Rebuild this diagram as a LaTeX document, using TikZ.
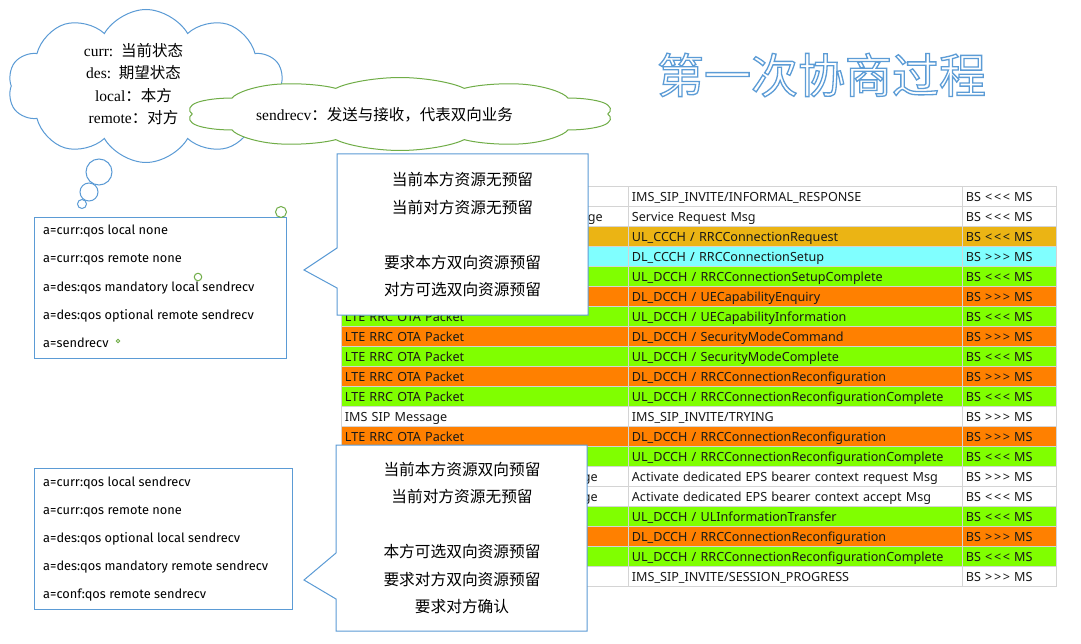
\documentclass[tikz,border=0pt]{standalone}
\usepackage{fontspec}
\setmainfont{Liberation Serif}
\newfontfamily\cjk{Noto Sans CJK SC}
\newfontfamily\tblfont{Noto Sans}
\newfontfamily\sdpfont{Fira Sans}
\usetikzlibrary{shapes.symbols}
\definecolor{ablue}{RGB}{91,155,213}
\definecolor{agreen}{RGB}{112,173,71}
\definecolor{cgold}{RGB}{235,180,20}
\definecolor{ccyan}{RGB}{128,255,255}
\definecolor{cgreen}{RGB}{128,255,0}
\definecolor{corange}{RGB}{255,128,0}
\definecolor{gridc}{RGB}{212,212,212}
\newcommand\outlinetext[1]{\special{pdf:literal direct 0.36 0.61 0.84 RG 1.3 w 2 Tr}#1\special{pdf:literal direct 0 Tr}}
\newcommand\upmsg{BS <\kern1.6pt<\kern1.6pt< MS}
\newcommand\dnmsg{BS >\kern1.6pt>\kern1.6pt> MS}
\newcommand\trow[5]{%
  \node[cell, fill=#2, text width=280pt] (a#1) at (341,{166+20*#1}) {#3};
  \node[cell, fill=#2, text width=327pt] (b#1) at (628,{166+20*#1}) {#4};
  \node[cell, fill=#2, text width=87pt] (c#1) at (962,{166+20*#1}) {#5};}
\begin{document}
\begin{tikzpicture}[x=1pt,y=-1pt,
  cell/.style={draw=gridc, line width=0.8pt, minimum height=20pt, inner xsep=3.5pt, inner ysep=0pt,
    anchor=north west, text height=11pt, text depth=0pt, align=left,
    font=\tblfont\fontsize{12.6}{14}\selectfont, text=black!90},
  callout/.style={draw=ablue, fill=white, line width=1pt},
  cjktext/.style={font=\cjk\fontsize{15.7}{27.5}\selectfont, align=center, inner sep=0pt},
  sdpbox/.style={draw=ablue, fill=white, line width=1pt},
  sdpline/.style={anchor=base west, inner sep=0pt, font=\sdpfont\fontsize{12.8}{14}\selectfont},
  bubble/.style={draw=ablue, fill=white, line width=1pt},
  gbubble/.style={draw=agreen, fill=white, line width=1pt},
  cloudbase/.style={cloud, inner sep=0pt, fill=white, line width=1pt},
]
\fill[white] (0,0) rectangle (1081,644);
\useasboundingbox (0,0) rectangle (1081,644);

% ---------- table ----------
\trow{1}{white}{}{IMS\_SIP\_INVITE/INFORMAL\_RESPONSE}{\upmsg}
\trow{2}{white}{}{Service Request Msg}{\upmsg}
\trow{3}{cgold}{}{UL\_CCCH / RRCConnectionRequest}{\upmsg}
\trow{4}{ccyan}{}{DL\_CCCH / RRCConnectionSetup}{\dnmsg}
\trow{5}{cgreen}{}{UL\_DCCH / RRCConnectionSetupComplete}{\upmsg}
\trow{6}{corange}{}{DL\_DCCH / UECapabilityEnquiry}{\dnmsg}
\trow{7}{cgreen}{LTE RRC OTA Packet}{UL\_DCCH / UECapabilityInformation}{\upmsg}
\trow{8}{corange}{LTE RRC OTA Packet}{DL\_DCCH / SecurityModeCommand}{\dnmsg}
\trow{9}{cgreen}{LTE RRC OTA Packet}{UL\_DCCH / SecurityModeComplete}{\upmsg}
\trow{10}{corange}{LTE RRC OTA Packet}{DL\_DCCH / RRCConnectionReconfiguration}{\dnmsg}
\trow{11}{cgreen}{LTE RRC OTA Packet}{UL\_DCCH / RRCConnectionReconfigurationComplete}{\upmsg}
\trow{12}{white}{IMS SIP Message}{IMS\_SIP\_INVITE/TRYING}{\dnmsg}
\trow{13}{corange}{LTE RRC OTA Packet}{DL\_DCCH / RRCConnectionReconfiguration}{\dnmsg}
\trow{14}{cgreen}{}{UL\_DCCH / RRCConnectionReconfigurationComplete}{\upmsg}
\trow{15}{white}{}{Activate dedicated EPS bearer context request Msg}{\dnmsg}
\trow{16}{white}{}{Activate dedicated EPS bearer context accept Msg}{\upmsg}
\trow{17}{cgreen}{}{UL\_DCCH / ULInformationTransfer}{\upmsg}
\trow{18}{corange}{}{DL\_DCCH / RRCConnectionReconfiguration}{\dnmsg}
\trow{19}{cgreen}{}{UL\_DCCH / RRCConnectionReconfigurationComplete}{\upmsg}
\trow{20}{white}{}{IMS\_SIP\_INVITE/SESSION\_PROGRESS}{\dnmsg}
\foreach \r/\e in {2/603,15/598,16/598}{
  \node[anchor=base east, inner sep=0pt, font=\tblfont\fontsize{12.6}{14}\selectfont, text=black!90]
    (ge\r) at (\e,{181.5+20*\r}) {ge};}

% ---------- callouts ----------
\path[callout] (337,154) -- (588,154) -- (588,315) -- (337,315) -- (337,288) -- (304,270) -- (337,248) -- cycle;
\node[cjktext] (note1) at (462.5,235) {当前本方资源无预留\\当前对方资源无预留\\[27.5pt]要求本方双向资源预留\\对方可选双向资源预留};
\path[callout] (336,445) -- (587,445) -- (587,631) -- (336,631) -- (336,599) -- (304,580) -- (336,553) -- cycle;
\node[cjktext] (note2) at (462,538) {当前本方资源双向预留\\当前对方资源无预留\\[27.5pt]本方可选双向资源预留\\要求对方双向资源预留\\要求对方确认};

% ---------- title ----------
\node[font=\cjk\fontsize{47}{50}\selectfont, text=white, inner sep=0pt] (title) at (821.5,75) {\outlinetext{第一次协商过程}};

% ---------- clouds ----------
\node[cloudbase, draw=ablue, cloud puffs=10, cloud puff arc=120, aspect=1.8,
  minimum width=276pt, minimum height=153pt] (cloudA) at (146,86) {};
\node[font=\fontsize{15.5}{22.4}\selectfont, align=center, inner sep=0pt] (cloudAtext) at (133.5,84)
  {curr:\ \ {\cjk 当前状态}\\des:\ \ {\cjk 期望状态}\\local{\cjk ：本方}\\remote{\cjk ：对方}};
\begin{scope}[shift={(400,114)}]
\node[cloudbase, draw=agreen, cloud puffs=10, cloud puff arc=120, aspect=1.72,
  minimum width=261pt, minimum height=152pt, xscale=1.64, yscale=0.48, transform shape] (cloudB) at (0,0) {};
\end{scope}
\node[font=\fontsize{15.5}{18}\selectfont, inner sep=0pt] (cloudBtext) at (384.5,115)
  {sendrecv{\cjk ：发送与接收，代表双向业务}};
\node[bubble, circle, minimum size=26pt, inner sep=0pt] (bA1) at (99,172) {};
\node[bubble, circle, minimum size=18pt, inner sep=0pt] (bA2) at (89,192) {};
\node[bubble, circle, minimum size=9pt, inner sep=0pt] (bA3) at (82,204) {};

% ---------- SDP boxes ----------
\node[sdpbox, anchor=north west, minimum width=252pt, minimum height=141pt, inner sep=0pt] (sdp1) at (34,217) {};
\foreach \t [count=\i from 0] in {a=curr:qos local none, a=curr:qos remote none,
  a=des:qos mandatory local sendrecv, a=des:qos optional remote sendrecv, a=sendrecv}
  \node[sdpline] (sdpA\i) at (43,{235+28*\i}) {\t};
\node[sdpbox, anchor=north west, minimum width=258pt, minimum height=141pt, inner sep=0pt] (sdp2) at (34,468) {};
\foreach \t [count=\i from 0] in {a=curr:qos local sendrecv, a=curr:qos remote none,
  a=des:qos optional local sendrecv, a=des:qos mandatory remote sendrecv, a=conf:qos remote sendrecv}
  \node[sdpline] (sdpB\i) at (43,{486+28*\i}) {\t};

% green thought bubbles
\node[gbubble, circle, minimum size=11pt, inner sep=0pt] (bB1) at (281,212) {};
\node[gbubble, circle, minimum size=7.5pt, inner sep=0pt] (bB2) at (198,277) {};
\node[gbubble, circle, minimum size=3.5pt, inner sep=0pt, line width=0.8pt] (bB3) at (118,341) {};
\end{tikzpicture}
\end{document}
